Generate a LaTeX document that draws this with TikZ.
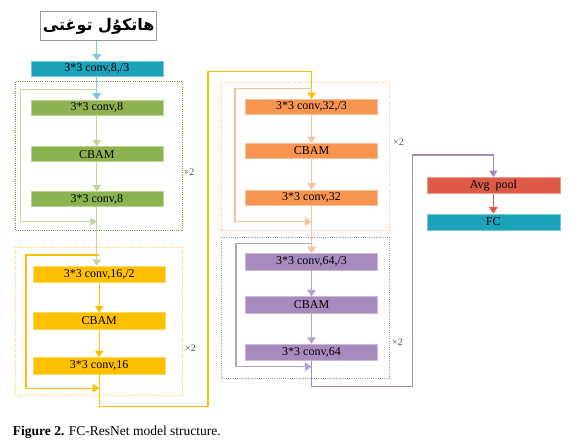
\documentclass[tikz,border=0pt]{standalone}
\usepackage{fontspec}
\setmainfont{Liberation Serif}
\newfontfamily\arabicfont[Script=Arabic]{DejaVu Sans}
\TeXXeTstate=1
\usetikzlibrary{arrows.meta}
\definecolor{cteal}{HTML}{1CA3BC}
\definecolor{cgreen}{HTML}{8DB350}
\definecolor{cyellow}{HTML}{FFC000}
\definecolor{corange}{HTML}{F7944F}
\definecolor{cpurple}{HTML}{A68BBF}
\definecolor{cred}{HTML}{DC5A46}
\definecolor{lblue}{HTML}{7FC9DD}
\definecolor{lgreen}{HTML}{C3D69B}
\definecolor{lorange}{HTML}{F9C29B}
\definecolor{lpurple}{HTML}{B3A2CC}
\definecolor{dgreen}{HTML}{6E9B3A}
\definecolor{dgray}{HTML}{9A9A9A}
\begin{document}
\begin{tikzpicture}[x=1pt,y=-1pt,
  blk/.style={minimum width=132pt, minimum height=15pt, inner sep=0pt, draw=#1!60!white, fill=#1, line width=0.6pt, font=\fontsize{12}{14}\selectfont},
  arr/.style={-{Triangle[length=6.5pt,width=8.5pt]}, line width=1.3pt},
  ln/.style={line width=1.3pt},
  dotbox/.style={dash pattern=on 1pt off 1.2pt, line width=0.7pt},
  times/.style={font=\fontsize{10}{11}\selectfont, text=black!70}]
\useasboundingbox (0,0) rectangle (577,442);
% input
\node[draw=dgray, line width=0.8pt, minimum width=116pt, minimum height=29pt, inner sep=0pt] (inp) at (98.7,26.3)
  {\arabicfont\bfseries\fontsize{16}{18}\selectfont\beginR ھاتكۇل توغتى\endR};
\node[blk=cteal] (c1) at (96.8,68.3) {3*3 conv,8,/3};
% green block
\draw[dgreen, dotbox] (15,81.7) rectangle (182.7,230.7);
\node[blk=cgreen] (g1) at (96.8,107.5) {3*3 conv,8};
\node[blk=cgreen] (g2) at (96.8,154.2) {CBAM};
\node[blk=cgreen] (g3) at (96.8,199.2) {3*3 conv,8};
\node[times] (x1) at (189,171.7) {×2};
% yellow block
\draw[cyellow!70!white, dotbox] (15,247.3) rectangle (182.7,395);
\node[blk=cyellow, minimum height=16.5pt] (y1) at (99.2,274.3) {3*3 conv,16,/2};
\node[blk=cyellow, minimum height=16.5pt] (y2) at (99.2,321) {CBAM};
\node[blk=cyellow, minimum height=16.5pt] (y3) at (99.2,365.7) {3*3 conv,16};
\node[times] (x2) at (190.5,348.3) {×2};
% orange block
\draw[lorange, dotbox] (221.7,82.7) rectangle (389,230.7);
\node[blk=corange] (o1) at (311.5,106.8) {3*3 conv,32,/3};
\node[blk=corange] (o2) at (311.5,150.8) {CBAM};
\node[blk=corange] (o3) at (311.5,197.5) {3*3 conv,32};
\node[times] (x3) at (398.5,141.7) {×2};
% purple block
\draw[dgray, dotbox] (221.7,237.3) rectangle (389.3,378.3);
\node[blk=cpurple, minimum height=16.5pt] (p1) at (311.5,261.7) {3*3 conv,64,/3};
\node[blk=cpurple, minimum height=16.5pt] (p2) at (311.5,305) {CBAM};
\node[blk=cpurple, minimum height=16.5pt] (p3) at (311.5,352.3) {3*3 conv,64};
\node[times] (x4) at (397.5,341.7) {×2};
% head
\node[blk=cred, minimum height=16pt, minimum width=133pt] (av) at (493.3,185.3) {Avg\ \ pool};
\node[blk=cteal, minimum height=16pt, minimum width=133pt] (fc) at (493.3,222) {FC};
% coordinates
\coordinate (gs) at (96.8,89.3);
\coordinate (ge) at (96.8,221.7);
\coordinate (ys) at (99.2,255);
\coordinate (ye) at (99.2,388.3);
\coordinate (os) at (311.5,88.3);
\coordinate (oe) at (311.5,221.7);
\coordinate (ps) at (311.5,243.3);
\coordinate (pe) at (311.5,366.7);
% main arrows
\draw[arr, lblue] (inp.south -| c1) -- (c1);
\draw[arr, lblue] (c1) -- (g1);
\draw[arr, lgreen] (g1) -- (g2);
\draw[arr, lgreen] (g2) -- (g3);
\draw[ln, lgreen] (gs) -- (20.7,89.3) -- (20.7,221.7);
\draw[arr, lgreen] (20.7,221.7) -- (ge);
\draw[arr, lgreen] (g3.south) -- (ge) -- (ge |- y1.north);
\draw[arr, cyellow] (y1) -- (y2);
\draw[arr, cyellow] (y2) -- (y3);
\draw[ln, cyellow] (ys) -- (26,255) -- (26,388.3);
\draw[arr, cyellow] (26,388.3) -- (ye);
\draw[arr, cyellow] (y3.south) -- (99.2,406.7) -- (208,406.7) -- (208,71.7) -- (311.5,71.7) -- (o1.north);
\draw[arr, lorange] (o1) -- (o2);
\draw[arr, lorange] (o2) -- (o3);
\draw[ln, lorange] (os) -- (235,88.3) -- (235,221.7);
\draw[arr, lorange] (235,221.7) -- (oe);
\draw[arr, lorange] (o3.south) -- (p1.north);
\draw[arr, lpurple] (p1) -- (p2);
\draw[arr, lpurple] (p2) -- (p3);
\draw[ln, lpurple] (ps) -- (236,243.3) -- (236,366.7);
\draw[arr, lpurple] (236,366.7) -- (pe);
\draw[arr, cpurple] (p3.south) -- (311.5,386.7) -- (412.3,386.7) -- (412.3,155) -- (493.3,155) -- (av.north);
\draw[arr, cred] (av) -- (fc);
% caption
\node[anchor=base west, inner sep=0pt, font=\fontsize{13.5}{15}\selectfont] (cap) at (12.7,435) {\textbf{Figure 2.} FC-ResNet model structure.};
\end{tikzpicture}
\end{document}
